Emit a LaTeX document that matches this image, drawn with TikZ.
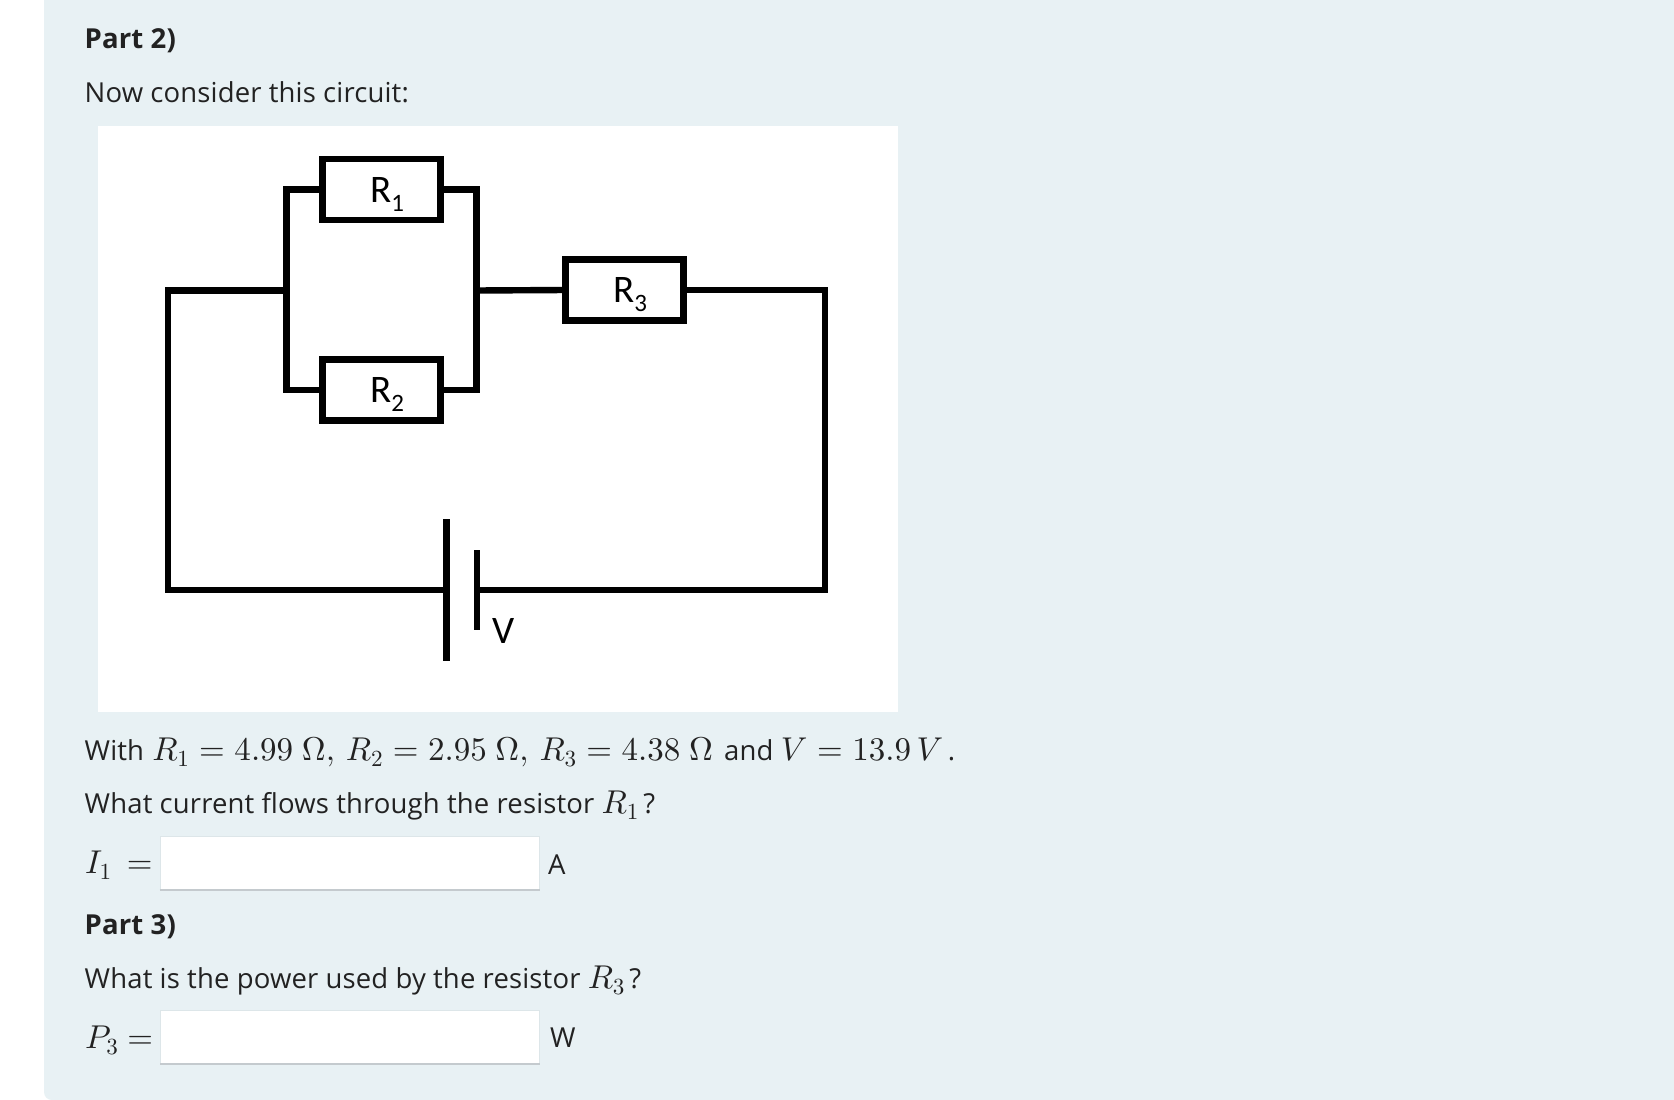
\documentclass[tikz,border=0pt]{standalone}
\usepackage{amsmath}
\usepackage{fontspec}
\setmainfont[LetterSpace=0.5]{Open Sans}
\newfontfamily\schemfont{Carlito}
\usetikzlibrary{positioning,calc}
\DeclareFontFamily{OT1}{cmr}{\hyphenchar\font45 }
\DeclareFontShape{OT1}{cmr}{m}{n}{<->cmr10}{}
\DeclareFontFamily{OML}{cmm}{\skewchar\font127 }
\DeclareFontShape{OML}{cmm}{m}{it}{<->cmmi10}{}
\definecolor{panelbg}{HTML}{E8F1F4}
\definecolor{fieldtop}{HTML}{DDE6E9}
\definecolor{fieldbot}{HTML}{C4CACE}
\definecolor{ink}{HTML}{222222}
\newcommand{\rlabel}[1]{\hspace*{11pt}R\smash{\raisebox{-9pt}{\fontsize{25}{25}\selectfont #1}}}
\newcommand{\mth}[1]{{\fontsize{33}{36}\selectfont\thickmuskip=7mu\relax$#1$}}

\begin{document}
\begin{tikzpicture}[x=1pt, y=-1pt,
    wire/.style={line width=6.4pt, line join=miter},
    resbox/.style={draw, line width=6.4pt, rectangle, minimum width=118pt, minimum height=61pt, inner sep=0pt, outer sep=0pt, font=\schemfont\fontsize{39}{39}\selectfont},
    plate/.style={fill=black, rectangle, minimum width=6.5pt, inner sep=0pt, outer sep=0pt},
    body/.style={anchor=base west, inner sep=0pt, text=ink, font=\fontsize{27.5}{30}\selectfont},
    head/.style={body, font=\fontsize{27.5}{30}\selectfont\bfseries},
    field/.style={fill=white, draw=fieldtop, line width=1pt, rectangle, minimum width=379pt, minimum height=53pt, inner sep=0pt}]
    \clip (0,0) rectangle (1674,1100);
    \fill [white] (0,0) rectangle (1674,1100);
    \fill [panelbg, rounded corners=8pt] (44,-20) rectangle (1700,1100);
    \fill [white] (98,126) rectangle (898,712);

    \node [head] (parttwo) at (84.5,48) {Part 2)};
    \node [body] (intro) at (84.5,102) {Now consider this circuit:};

    \node [resbox] (rone) at (381.5,189.5) {\rlabel{1}};
    \node [resbox] (rtwo) at (381.5,390) {\rlabel{2}};
    \node [resbox] (rthree) at (624.5,290) {\rlabel{3}};
    \node [plate, minimum height=142pt] (batlong) at (446.7,590) {};
    \node [plate, minimum height=80pt] (batshort) at (477,590) {};
    \node [anchor=base west, inner sep=0pt, font=\schemfont\fontsize{39}{39}\selectfont] (vlabel) at (492,643) {V};

    \coordinate (jleft) at (286.5,290.5);
    \coordinate (jright) at (476.5,290.5);
    \coordinate (cornerl) at (168,590);
    \coordinate (cornerr) at (825,590);

    \draw [wire] (rone.west) -| (jleft) |- (rtwo.west);
    \draw [wire] (rone.east) -| (jright) |- (rtwo.east);
    \draw [wire] (jright) -- (rthree.west);
    \draw [wire] (jleft) -| (cornerl) -- (batlong);
    \draw [wire] (rthree.east) -| (cornerr) -- (batshort);

    \node [body] (given) at (84.5,760) {With \hspace{1pt}\mth{R_1 = 4.99~\Omega,\mkern 5mu R_2 = 2.95~\Omega,\mkern 5mu R_3 = 4.38~\Omega}\hspace{4pt} and \mth{V = 13.9\mkern 4mu V}\,.};
    \node [body] (askone) at (84.5,813) {What current flows through the resistor \mth{R_1}\,?};
    \node [body] (ione) at (85,873) {\mth{I_1\mkern 4mu=}};
    \node [field, anchor=north west] (fieldone) at (159.5,836) {};
    \draw [fieldbot, line width=2pt] (fieldone.south west) -- (fieldone.south east);
    \node [body] (ampere) at (548,874) {A};

    \node [head] (partthree) at (84.5,934) {Part 3)};
    \node [body] (asktwo) at (84.5,988) {What is the power used by the resistor \mth{R_3}\,?};
    \node [body] (pthree) at (85,1048) {\mth{P_3\mkern -0.5mu=}};
    \node [field, anchor=north west] (fieldtwo) at (160,1010) {};
    \draw [fieldbot, line width=2pt] (fieldtwo.south west) -- (fieldtwo.south east);
    \node [body] (watt) at (550,1047) {W};
\end{tikzpicture}
\end{document}
